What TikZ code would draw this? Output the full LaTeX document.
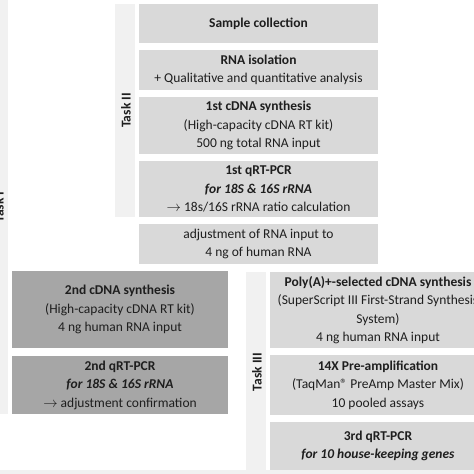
\documentclass[tikz,border=0pt]{standalone}
\usepackage{fontspec}
\setmainfont{Carlito}
\definecolor{boxlight}{HTML}{D9D9D9}
\definecolor{boxdark}{HTML}{A6A6A6}
\definecolor{strip}{HTML}{F1F1F1}
\definecolor{txt}{HTML}{1E1E1E}
\tikzset{
  base/.style={inner sep=0pt, align=center, text=txt, font=\fontsize{13.5}{18.5}\selectfont},
  lbox/.style={base, fill=boxlight},
  dbox/.style={base, fill=boxdark},
  stripbox/.style={fill=strip, inner sep=0pt},
  tasklabel/.style={base, rotate=90, font=\fontsize{13.5}{16}\selectfont\bfseries},
}
\begin{document}
\begin{tikzpicture}[x=1pt,y=-1pt]
\useasboundingbox (0,0) rectangle (474,474);
\clip (0,0) rectangle (474,474);
\fill[white] (0,0) rectangle (474,474);
% strips
\node[stripbox, minimum width=20pt, minimum height=414pt] (stripI) at (-2,207) {};
\node[stripbox, minimum width=20pt, minimum height=213pt] (stripII) at (125,110.5) {};
\node[stripbox, minimum width=20pt, minimum height=198pt] (stripIII) at (256,371) {};
\node[stripbox, minimum width=474pt, minimum height=4pt] (bottomband) at (237,472) {};
\node[tasklabel] (taskI) at (-1,207) {Task I};
\node[tasklabel] (taskII) at (126,110.5) {Task II};
\node[tasklabel] (taskIII) at (257,372) {Task III};
% top column
\node[lbox, minimum width=239pt, minimum height=39pt] (s1) at (258.5,23.5) {\textbf{Sample collection}};
\node[lbox, minimum width=239pt, minimum height=40pt] (s2) at (258.5,70) {\textbf{RNA isolation}\\+ Qualitative and quantitative analysis};
\node[lbox, minimum width=239pt, minimum height=57pt] (s3) at (258.5,125.5) {\textbf{1st cDNA synthesis}\\(High-capacity cDNA RT kit)\\500 ng total RNA input};
\node[lbox, minimum width=239pt, minimum height=56pt] (s4) at (258.5,189) {\textbf{1st qRT-PCR}\\\textbf{\textit{for 18S \& 16S rRNA}}\\$\rightarrow$ 18s/16S rRNA ratio calculation};
\node[lbox, minimum width=239pt, minimum height=40pt] (s5) at (258.5,244) {adjustment of RNA input to\\4 ng of human RNA};
% left dark column
\node[dbox, minimum width=216pt, minimum height=77pt] (d1) at (120,309.5) {\textbf{2nd cDNA synthesis}\\(High-capacity cDNA RT kit)\\4 ng human RNA input};
\node[dbox, minimum width=216pt, minimum height=58pt] (d2) at (120,385) {\textbf{2nd qRT-PCR}\\\textbf{\textit{for 18S \& 16S rRNA}}\\$\rightarrow$ adjustment confirmation};
% right column
\node[lbox, minimum width=216pt, minimum height=76pt] (r1) at (378,310) {\textbf{Poly(A)+-selected cDNA synthesis}\\(SuperScript III First-Strand Synthesis\\System)\\4 ng human RNA input};
\node[lbox, minimum width=216pt, minimum height=60pt] (r2) at (378,385) {\textbf{14X Pre-amplification}\\(TaqMan® PreAmp Master Mix)\\10 pooled assays};
\node[lbox, minimum width=216pt, minimum height=48pt] (r3) at (378,446) {\textbf{3rd qRT-PCR}\\\textbf{\textit{for 10 house-keeping genes}}};
\end{tikzpicture}
\end{document}
